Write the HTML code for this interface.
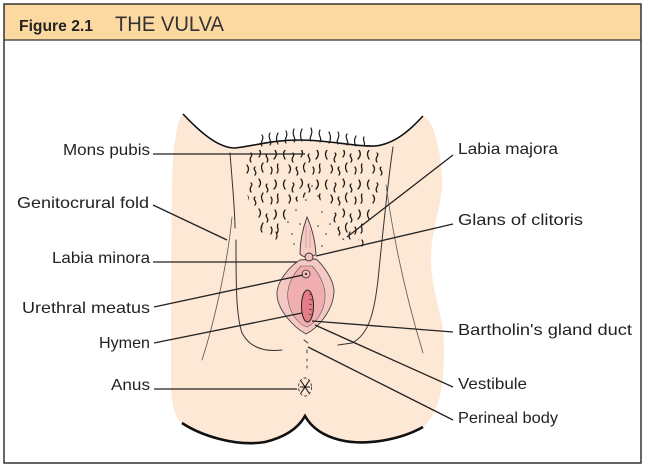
<!DOCTYPE html>
<html><head><meta charset="utf-8"><style>
html,body{margin:0;padding:0;background:#fff;}
svg{display:block;}
text{font-family:"Liberation Sans",sans-serif;fill:#222;}
</style></head><body>
<svg width="646" height="470" viewBox="0 0 646 470" xmlns="http://www.w3.org/2000/svg">
<defs>
<pattern id="hair" patternUnits="userSpaceOnUse" x="240" y="148" width="42" height="30">
<g fill="none" stroke="#1a1a1a" stroke-width="1.3" stroke-linecap="round">
<path d="M3,2 q-3,4 0,9"/><path d="M11,5 c3,2 -3,5 0,9"/><path d="M19,1 q3,4 0,8"/><path d="M27,6 c-3,2 3,5 0,8"/><path d="M35,2 q3,5 -1,9"/>
<path d="M7,17 q3,4 0,8"/><path d="M15,19 c-3,2 3,5 0,8"/><path d="M23,15 q-3,4 0,9"/><path d="M31,19 q2,3 0,7"/><path d="M38,16 c-2,3 2,6 -1,9"/>
</g>
</pattern>
</defs>
<rect x="0" y="0" width="646" height="470" fill="#fff"/>
<!-- header -->
<rect x="4" y="4" width="637" height="36" fill="#fdd9a2"/>
<rect x="4" y="4" width="637" height="459" fill="none" stroke="#333" stroke-width="1.5"/>
<line x1="4" y1="40" x2="641" y2="40" stroke="#333" stroke-width="1.2"/>
<text x="19" y="31" font-size="16" font-weight="bold" textLength="74" lengthAdjust="spacingAndGlyphs">Figure 2.1</text>
<text x="115" y="31" font-size="21" textLength="109" lengthAdjust="spacingAndGlyphs" style="fill:#333">THE VULVA</text>

<!-- body -->
<path d="M176,135 C178,122 180,116 184,114 C200,132 218,148 235,148 C255,146 270,140 300,140 C330,140 355,147 375,146 C395,144 410,130 423,116 C432,118 440,145 442,175 C444,200 432,225 431,255 C430,290 444,315 444,345 C444,380 442,410 423,427 C400,440 365,446 340,440 C320,435 310,425 305,416 C300,425 290,436 265,442 C235,447 200,435 182,423 C174,418 171,400 171,380 C171,300 171,250 172,200 C172,170 173,150 176,135 Z" fill="#fde7d5"/>
<path d="M183,114 C200,132 218,148 235,148 C255,146 270,140 300,140 C330,140 355,147 375,146 C395,144 410,130 423,116" fill="none" stroke="#111" stroke-width="1.6"/>
<path d="M182,423 C200,435 235,447 265,442 C290,436 300,425 305,416 C310,425 320,435 340,440 C365,446 400,440 423,427" fill="none" stroke="#111" stroke-width="2.6"/>

<!-- thigh lines -->
<g fill="none" stroke="#333" stroke-width="1" stroke-linecap="round">
<path d="M230,153 C232,180 235,210 235,228"/>
<path d="M236,240 C236,285 236,315 242,333 C250,348 265,352 282,350"/>
<path d="M232,217 C228,260 215,320 202,360" stroke="#555" stroke-width="0.8"/>
<path d="M393,147 C388,180 382,240 378,280 C374,315 368,335 352,343 L338,345"/>
<path d="M386,185 C395,250 410,310 423,353" stroke="#555" stroke-width="0.8"/>
</g>

<!-- hair -->
<polygon points="244,150 384,150 382,185 372,222 356,244 338,238 328,208 316,196 300,198 290,212 284,238 268,238 252,212 244,182" fill="url(#hair)"/>
<g fill="none" stroke="#1a1a1a" stroke-width="1.2" stroke-linecap="round">
<path d="M262,146 c-3,-3 3,-7 0,-11"/><path d="M270,145 c3,-3 -3,-7 0,-12"/><path d="M278,144 q-3,-5 0,-11"/>
<path d="M286,143 c-3,-3 3,-7 0,-12"/><path d="M294,142 c3,-3 -3,-7 0,-13"/><path d="M302,141 q-3,-6 0,-12"/>
<path d="M311,141 c-3,-3 3,-7 0,-13"/><path d="M320,142 c3,-3 -3,-7 0,-12"/><path d="M329,143 q3,-5 0,-11"/>
<path d="M338,144 c-3,-3 3,-7 0,-12"/><path d="M347,145 c3,-3 -3,-7 0,-11"/><path d="M356,146 q-3,-5 0,-10"/>
<path d="M364,146 c2,-3 -2,-6 0,-9"/>
<path d="M362,240 q2,3 0,6"/><path d="M350,232 q-2,4 0,7"/><path d="M276,232 q2,4 0,7"/><path d="M262,225 q-2,4 0,7"/>
</g>
<g fill="#333">
<circle cx="300" cy="188" r="0.8"/><circle cx="306" cy="200" r="0.8"/><circle cx="312" cy="186" r="0.8"/>
<circle cx="318" cy="196" r="0.8"/><circle cx="296" cy="210" r="0.8"/><circle cx="322" cy="212" r="0.8"/>
<circle cx="300" cy="224" r="0.8"/><circle cx="318" cy="226" r="0.8"/><circle cx="292" cy="234" r="0.8"/>
<circle cx="326" cy="234" r="0.8"/><circle cx="294" cy="244" r="0.8"/><circle cx="322" cy="246" r="0.8"/>
<circle cx="288" cy="222" r="0.8"/><circle cx="330" cy="224" r="0.8"/>
</g>

<!-- vulva -->
<path d="M300,260 C290,266 278,280 277,292 C276,310 295,328 306,334 C318,328 334,310 334,290 C333,278 322,264 316,259 Z" fill="#f6c8c3" stroke="#444" stroke-width="0.9"/>
<path d="M301,266 C292,275 286,288 288,300 C290,315 300,325 307,327 C316,323 324,312 325,298 C326,285 318,272 312,266 Z" fill="#f1aeb0" stroke="#555" stroke-width="0.6"/>
<path d="M307,217 C303,228 300,242 300,254 C303,258 313,258 316,254 C315,240 312,228 307,217 Z" fill="#f6cbc3" stroke="#333" stroke-width="0.9"/>
<path d="M306,226 l0,22 M310,230 l0,18" stroke="#b88" stroke-width="0.6" fill="none"/>
<circle cx="309" cy="257" r="4" fill="#f4c0bc" stroke="#333" stroke-width="0.9"/>
<circle cx="306" cy="274" r="4" fill="#f3bcbc" stroke="#333" stroke-width="0.8"/>
<circle cx="306" cy="274" r="1.2" fill="#633"/>
<ellipse cx="307.5" cy="306" rx="6" ry="16" fill="#e57d88" stroke="#222" stroke-width="1"/>
<path d="M309,294 l3,1 M309,299 l3,1 M309,304 l3,1 M309,309 l3,1 M309,314 l3,1" stroke="#7a2a33" stroke-width="0.7"/>
<g stroke="#333" stroke-width="0.9" stroke-linecap="round">
<path d="M304,340 l4,3"/><path d="M307,350 l0,3"/><path d="M307,359 l0,2"/><path d="M307,366 l0,2"/>
</g>

<!-- anus -->
<ellipse cx="305" cy="387" rx="6.5" ry="9" fill="none" stroke="#333" stroke-width="0.9" stroke-dasharray="3,2"/>
<path d="M301,381 L309,393 M309,381 L301,393 M300,387 L310,387" stroke="#111" stroke-width="1.1"/>

<!-- connectors -->
<g stroke="#222" stroke-width="1.3" fill="none">
<line x1="153" y1="154" x2="305" y2="154"/>
<line x1="153" y1="205" x2="227" y2="240"/>
<line x1="153" y1="262" x2="297" y2="262"/>
<line x1="154" y1="307" x2="303" y2="275"/>
<line x1="154" y1="343" x2="302" y2="313"/>
<line x1="154" y1="389" x2="297" y2="389"/>
<line x1="453" y1="155" x2="347" y2="237"/>
<line x1="453" y1="224" x2="316" y2="256"/>
<line x1="453" y1="332" x2="312" y2="321"/>
<line x1="453" y1="387" x2="315" y2="325"/>
<line x1="453" y1="420" x2="308" y2="347"/>
</g>

<!-- labels -->
<g font-size="16">
<text x="63" y="155" textLength="87" lengthAdjust="spacingAndGlyphs">Mons pubis</text>
<text x="17" y="208" textLength="132" lengthAdjust="spacingAndGlyphs">Genitocrural fold</text>
<text x="52" y="263" textLength="98" lengthAdjust="spacingAndGlyphs">Labia minora</text>
<text x="22" y="313" textLength="128" lengthAdjust="spacingAndGlyphs">Urethral meatus</text>
<text x="99" y="348" textLength="51" lengthAdjust="spacingAndGlyphs">Hymen</text>
<text x="111" y="390" textLength="39" lengthAdjust="spacingAndGlyphs">Anus</text>
<text x="458" y="154" textLength="100" lengthAdjust="spacingAndGlyphs">Labia majora</text>
<text x="458" y="225" textLength="125" lengthAdjust="spacingAndGlyphs">Glans of clitoris</text>
<text x="458" y="335" textLength="174" lengthAdjust="spacingAndGlyphs">Bartholin's gland duct</text>
<text x="458" y="389" textLength="69" lengthAdjust="spacingAndGlyphs">Vestibule</text>
<text x="458" y="423" textLength="100" lengthAdjust="spacingAndGlyphs">Perineal body</text>
</g>
</svg>
</body></html>
